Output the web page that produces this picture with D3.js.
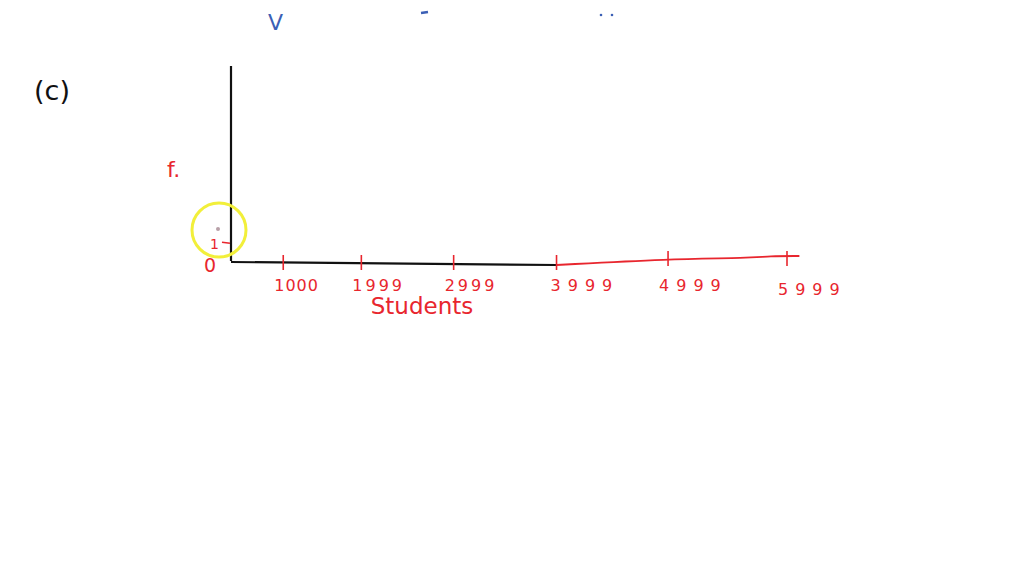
<!DOCTYPE html>
<html>
<head>
<meta charset="utf-8">
<script src="https://cdn.jsdelivr.net/npm/d3@7"></script>
<style>
  body { margin: 0; background: #fff; }
  text { font-family: "DejaVu Sans", sans-serif; }
</style>
</head>
<body>
<div id="sketch"></div>
<script>
const width = 1024;
const height = 576;

// values
const xTicks = [1000, 1999, 2999, 3999, 4999, 5999];
const xTickLabels = ["1000", "1999", "2999", "3999", "4999", "5999"];
const yTicks = [1];
const xTitle = "Students";
const yTitle = "f.";
const partLabel = "(c)";

const red = "#e8262e";

var svg = d3.select("#sketch").append("svg")
  .attr("width", width)
  .attr("height", height);

// hand drawn spacing grows to the right, a power scale follows it well
var x = d3.scalePow().exponent(1.32)
  .domain([0, 5999])
  .range([231, 787]);

var y = d3.scaleLinear()
  .domain([0, 11])
  .range([261, 66]);

// y axis line
svg.append("line")
  .attr("x1", x(0)).attr("x2", x(0))
  .attr("y1", y(0)).attr("y2", y(11))
  .style("stroke", "#111")
  .attr("stroke-width", 2.2);

// x axis: black part up to 3999, red part after
svg.append("line")
  .attr("x1", x(0)).attr("y1", y(0) + 1)
  .attr("x2", x(3999)).attr("y2", y(0) + 4)
  .style("stroke", "#111")
  .attr("stroke-width", 2.2);

svg.append("path")
  .attr("d", d3.line().curve(d3.curveBasis)([
    [x(3999), y(0) + 4],
    [x(4999), y(0) - 2],
    [x(5700), y(0) - 3],
    [x(5850), y(0) - 5],
    [x(6100), y(0) - 5]
  ]))
  .attr("fill", "none")
  .style("stroke", red)
  .attr("stroke-width", 1.8);

// x ticks
var tick = svg.selectAll(".xtick").data(xTicks).enter()
  .append("g")
  .attr("class", "xtick");

tick.append("line")
  .attr("x1", (d) => x(d)).attr("x2", (d) => x(d))
  .attr("y1", (d, i) => y(0) - 6 + (i > 3 ? -4 : 0))
  .attr("y2", (d, i) => y(0) + 9 + (i > 3 ? -4 : 0))
  .style("stroke", red)
  .attr("stroke-width", 1.6);

tick.append("text")
  .attr("x", (d, i) => x(d) + (i == 3 ? -6 : -9))
  .attr("y", (d, i) => y(0) + 30 + (i == 5 ? 4 : 0))
  .attr("fill", red)
  .style("font-size", "16px")
  .style("letter-spacing", (d, i) => (i < 1 ? 1 : i < 3 ? 3 : 7) + "px")
  .text((d, i) => xTickLabels[i]);

// y tick and labels
svg.selectAll(".ytick").data(yTicks).enter()
  .append("line")
  .attr("x1", x(0) - 9).attr("x2", x(0) - 1)
  .attr("y1", (d) => y(d) - 1).attr("y2", (d) => y(d))
  .style("stroke", red)
  .attr("stroke-width", 1.6);

svg.selectAll(".ylabel").data(yTicks).enter()
  .append("text")
  .attr("x", x(0) - 12)
  .attr("y", (d) => y(d) + 6)
  .attr("text-anchor", "end")
  .attr("fill", red)
  .style("font-size", "14px")
  .text((d) => d);

svg.append("text")
  .attr("x", x(0) - 15).attr("y", y(0) + 11)
  .attr("text-anchor", "end")
  .attr("fill", red)
  .style("font-size", "19px")
  .text("0");

// titles
svg.append("text")
  .attr("x", 422).attr("y", 314)
  .attr("text-anchor", "middle")
  .attr("fill", red)
  .style("font-size", "23px")
  .text(xTitle);

svg.append("text")
  .attr("x", 167).attr("y", 177)
  .attr("fill", red)
  .style("font-size", "22px")
  .text(yTitle);

svg.append("text")
  .attr("x", 34).attr("y", 100)
  .attr("fill", "#111")
  .style("font-size", "27px")
  .text(partLabel);

// cursor highlight
svg.append("circle")
  .attr("cx", 219).attr("cy", 230).attr("r", 27)
  .attr("fill", "none")
  .style("stroke", "#f2ef3a")
  .attr("stroke-width", 3);

svg.append("circle")
  .attr("cx", 218).attr("cy", 229).attr("r", 2)
  .attr("fill", "#b8a0a8");

// blue scraps at the top edge
svg.append("text")
  .attr("x", 268).attr("y", 30)
  .attr("fill", "#3b5fb5")
  .style("font-size", "22px")
  .text("V");

svg.append("line")
  .attr("x1", 421).attr("x2", 428)
  .attr("y1", 13).attr("y2", 12)
  .style("stroke", "#3b5fb5")
  .attr("stroke-width", 2.5);

svg.selectAll(".dot").data([601, 612]).enter()
  .append("circle")
  .attr("cx", (d) => d).attr("cy", 15).attr("r", 1.3)
  .attr("fill", "#3b5fb5");
</script>
</body>
</html>
